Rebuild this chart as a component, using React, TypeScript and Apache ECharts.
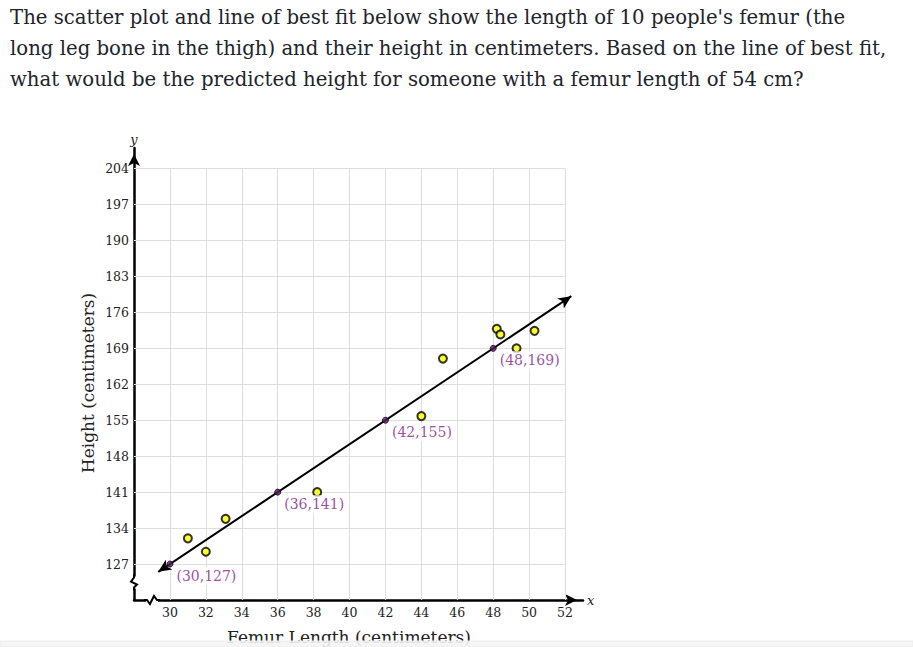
import React, { useEffect, useRef } from "react";
import * as echarts from "echarts";

// Question text shown above the plot
const titleLines = [
  "The scatter plot and line of best fit below show the length of 10 people's femur (the",
  "long leg bone in the thigh) and their height in centimeters. Based on the line of best fit,",
  "what would be the predicted height for someone with a femur length of 54 cm?",
];

// Axis ticks
const xTicks = [30, 32, 34, 36, 38, 40, 42, 44, 46, 48, 50, 52];
const yTicks = [127, 134, 141, 148, 155, 162, 169, 176, 183, 190, 197, 204];

// Axis extents (axis lines run past the grid to the arrow heads)
const xAxisExtent = [28, 53];
const yAxisExtent = [120, 208];
const gridXMax = 52;
const gridYMax = 204;

// Where the axis-break zigzags sit
const xBreakAt = 29.0;
const yBreakAt = 123.4;

// Observed people: femur length (cm) and height (cm)
const femurLengths = [31, 32, 33.1, 38.2, 44, 45.2, 48.2, 48.4, 49.3, 50.3];
const heights = [132, 129.4, 135.8, 141, 155.8, 167, 172.8, 171.7, 169, 172.4];

// Labelled points on the line of best fit
const fitX = [30, 36, 42, 48];
const fitY = [127, 141, 155, 169];

// Horizontal reach of the drawn fit line
const fitLineExtent = [29.35, 52.35];

const SERIF = "'DejaVu Serif', 'Liberation Serif', serif";
const PURPLE = "#861a88";

function fitValue(x: number): number {
  const slope = (fitY[fitY.length - 1] - fitY[0]) / (fitX[fitX.length - 1] - fitX[0]);
  return fitY[0] + (x - fitX[0]) * slope;
}

function baseGraphics(): any[] {
  return [
    {
      type: "text",
      left: 10,
      top: 2,
      silent: true,
      style: {
        text: titleLines.join("\n"),
        font: `19.7px ${SERIF}`,
        lineHeight: 31,
        fill: "#21242c",
      },
    },
    {
      type: "text",
      x: 88,
      y: 383,
      rotation: Math.PI / 2,
      silent: true,
      style: {
        text: "Height (centimeters)",
        font: `17px ${SERIF}`,
        fill: "#222",
        align: "center",
        verticalAlign: "middle",
      },
    },
    {
      type: "text",
      x: 349,
      y: 637,
      silent: true,
      style: {
        text: "Femur Length (centimeters)",
        font: `17px ${SERIF}`,
        fill: "#222",
        align: "center",
        verticalAlign: "middle",
      },
    },
    {
      type: "rect",
      shape: { x: 0, y: 641, width: 913, height: 6 },
      silent: true,
      z: 100,
      style: { fill: "rgba(244,244,244,0.88)", stroke: "#ececec", lineWidth: 1 },
    },
  ];
}

export default function App() {
  const ref = useRef<HTMLDivElement>(null);

  useEffect(() => {
    if (!ref.current) return;
    const chart = echarts.init(ref.current, null, { renderer: "svg" });

    const gridLines: any[] = [
      ...xTicks.map((x) => [{ coord: [x, yAxisExtent[0]] }, { coord: [x, gridYMax] }]),
      ...yTicks.map((y) => [{ coord: [xAxisExtent[0], y] }, { coord: [gridXMax, y] }]),
    ];

    const axisCommon = {
      type: "value",
      splitLine: { show: false },
      axisTick: { show: false },
      nameTextStyle: { fontFamily: SERIF, fontStyle: "italic", fontSize: 13, color: "#222" },
      axisLine: {
        show: true,
        lineStyle: { color: "#000", width: 2.5 },
        symbol: ["none", "arrow"],
        symbolSize: [9, 12],
        symbolOffset: [0, -6],
      },
    };

    const tickLabel = {
      fontFamily: SERIF,
      fontSize: 12.5,
      color: "#222",
    };

    chart.setOption({
      animation: false,
      backgroundColor: "#fff",
      grid: { left: 134, top: 148, width: 449, height: 452 },
      xAxis: {
        ...axisCommon,
        min: xAxisExtent[0],
        max: xAxisExtent[1],
        name: "x",
        nameLocation: "end",
        nameGap: 4,
        axisLabel: { ...tickLabel, customValues: xTicks, margin: 6 },
      },
      yAxis: {
        ...axisCommon,
        min: yAxisExtent[0],
        max: yAxisExtent[1],
        name: "y",
        nameLocation: "end",
        nameGap: 2,
        axisLabel: { ...tickLabel, customValues: yTicks, margin: 5 },
      },
      graphic: baseGraphics(),
      series: [
        {
          name: "grid",
          type: "scatter",
          data: [],
          z: 1,
          silent: true,
          markLine: {
            z: 1,
            silent: true,
            animation: false,
            symbol: ["none", "none"],
            label: { show: false },
            lineStyle: { color: "#dedede", width: 1, type: "solid" },
            data: gridLines,
          },
        },
        {
          name: "fit",
          type: "scatter",
          data: [],
          z: 2,
          silent: true,
          markLine: {
            z: 2,
            silent: true,
            animation: false,
            symbol: ["arrow", "arrow"],
            symbolSize: [9, 13],
            label: { show: false },
            lineStyle: { color: "#000", width: 2, type: "solid" },
            data: [
              [
                { coord: [fitLineExtent[0], fitValue(fitLineExtent[0])] },
                { coord: [fitLineExtent[1], fitValue(fitLineExtent[1])] },
              ],
            ],
          },
        },
        {
          name: "people",
          type: "scatter",
          z: 3,
          symbol: "circle",
          symbolSize: 8,
          itemStyle: { color: "#ffff00", borderColor: "#000", borderWidth: 2 },
          data: femurLengths.map((x, i) => [x, heights[i]]),
        },
        {
          name: "fitPoints",
          type: "scatter",
          z: 4,
          symbol: "circle",
          symbolSize: 6,
          itemStyle: { color: "#5e1563", borderColor: "#000", borderWidth: 1 },
          label: {
            show: true,
            position: "right",
            distance: 2,
            offset: [0, 12],
            formatter: (p: any) => `(${p.value[0]},${p.value[1]})`,
            fontFamily: SERIF,
            fontSize: 14,
            color: PURPLE,
            backgroundColor: "#fff",
            padding: [2, 1],
          },
          data: fitX.map((x, i) => [x, fitY[i]]),
        },
      ],
    });

    // Axis-break zigzags, placed through the chart's own coordinate system
    const yb = chart.convertToPixel({ gridIndex: 0 }, [xAxisExtent[0], yBreakAt]) as number[];
    const xb = chart.convertToPixel({ gridIndex: 0 }, [xBreakAt, yAxisExtent[0]]) as number[];
    const zig = [
      {
        type: "rect",
        shape: { x: yb[0] - 3, y: yb[1] - 6, width: 6, height: 12 },
        silent: true,
        z: 50,
        style: { fill: "#fff" },
      },
      {
        type: "polyline",
        silent: true,
        z: 51,
        shape: {
          points: [
            [yb[0], yb[1] - 8],
            [yb[0], yb[1] - 5],
            [yb[0] - 3, yb[1] - 1],
            [yb[0] + 3, yb[1] + 2],
            [yb[0], yb[1] + 5],
            [yb[0], yb[1] + 8],
          ],
        },
        style: { stroke: "#000", lineWidth: 2, fill: "none" },
      },
      {
        type: "rect",
        shape: { x: xb[0] - 6, y: xb[1] - 3, width: 12, height: 6 },
        silent: true,
        z: 50,
        style: { fill: "#fff" },
      },
      {
        type: "polyline",
        silent: true,
        z: 51,
        shape: {
          points: [
            [xb[0] - 8, xb[1]],
            [xb[0] - 5, xb[1]],
            [xb[0] - 2, xb[1] + 4],
            [xb[0] + 2, xb[1] - 4],
            [xb[0] + 5, xb[1]],
            [xb[0] + 8, xb[1]],
          ],
        },
        style: { stroke: "#000", lineWidth: 2, fill: "none" },
      },
    ];
    chart.setOption({ graphic: [...baseGraphics(), ...zig] });

    return () => chart.dispose();
  }, []);

  return (
    <div
      ref={ref}
      style={{ position: "absolute", left: 0, top: 0, width: 913, height: 647 }}
    />
  );
}
